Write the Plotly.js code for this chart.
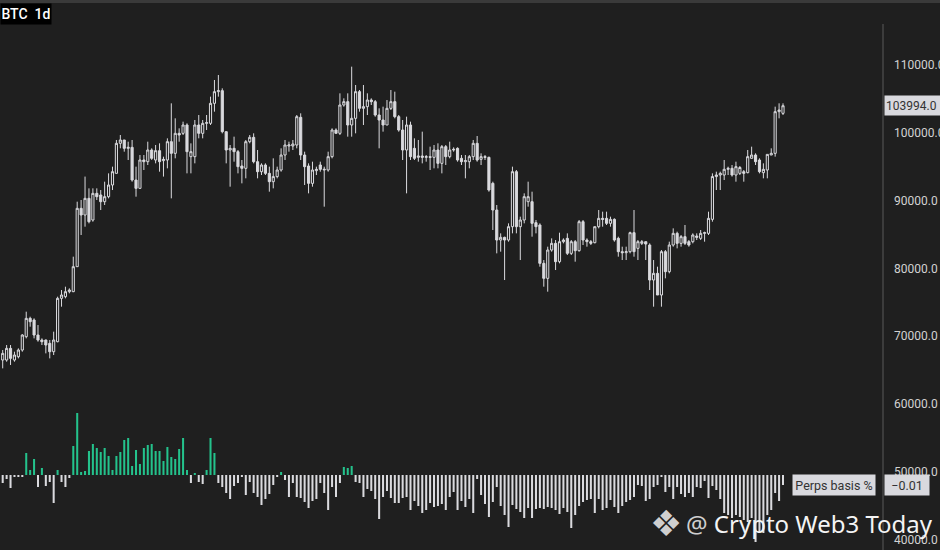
<!DOCTYPE html>
<html>
<head>
<meta charset="utf-8">
<script src="https://cdn.plot.ly/plotly-3.0.1.min.js"></script>
<style>html,body{margin:0;padding:0;background:#1f1f1f;overflow:hidden;}</style>
</head>
<body>
<div id="chart" style="width:940px;height:550px;"></div>
<script>
// BTC daily candles
const openP = [
66484,66484,68205,66484,66975,67959,69926,72630,72384,70172,
69434,69434,68943,67713,69188,75581,75827,76564,76564,80252,
88856,87873,90331,87136,91069,90823,89840,90577,92298,94019,
98445,98939,97707,97854,93036,91806,95986,95740,97461,95986,
97363,95888,95986,98690,96970,99920,99920,101149,96478,96478,
101149,99920,101395,101395,104345,106066,106214,100166,97461,97707,
97215,95101,94757,98690,99330,95740,94265,95248,94019,92790,
93541,94512,96722,98052,98052,98199,102280,96722,95101,92544,
94414,95248,
94512,94512,96478,100411,99920,104099,104591,101149,102132,106066,
103607,103853,104837,104591,102624,101887,101149,103607,104591,102378,
100411,97461,101149,97707,96380,96576,96380,96478,96380,97461,
95494,97953,96478,97461,97707,96232,95740,95740,96478,98445,
96084,96478,96380,92544,88610,84185,84579,84185,86152,94265,
86152,87136,89840,89840,86742,86398,80744,78531,82710,83694,
80989,83939,84431,82218,83939,82612,86890,84185,83939,83792,
86152,87381,87381,86644,87234,84431,82464,82317,82464,85267,
82956,83694,83939,83447,78285,79269,76073,82464,79515,83447,
85169,83694,84677,83939,83939,84775,84431,85169,85169,87234,
93541,93775,93775,94610,94757,93775,94019,94265,94118,96232,
96722,95986,94118,94512,96722,96970,103116,102870];
const highP = [
67959,68697,68697,67713,68205,70300,73614,72876,72630,71647,
69680,69500,69434,70664,75827,76810,77301,77055,81727,89840,
90086,93541,91806,91806,91806,91560,92790,94019,95003,98939,
99674,98939,98690,98939,95003,96722,96722,98690,97707,98199,
98445,96478,99182,104345,102132,100657,101641,101395,98445,101887,
102624,101887,102624,105328,107787,108525,106558,100166,98199,99428,
97461,95986,98939,99674,99920,97461,95494,95494,95003,96232,
95003,97707,98939,98690,98939,102624,102870,97215,95494,95740,
95003,95740,
95003,97215,100657,100657,105820,105083,105820,109754,107050,106312,
107050,105820,105083,104837,103607,103853,104837,106312,106066,102624,
101887,102378,101641,99182,98939,100166,96722,97953,98199,98445,
98199,98199,98690,97854,97854,96722,96722,96722,98939,99526,
96970,96722,96478,92790,89348,85169,84677,86644,95003,94512,
87628,91069,92790,91314,87136,86644,81235,83202,84431,84185,
85267,84431,85169,84185,84185,87136,87136,84431,84185,86152,
88610,88364,88364,87628,87381,84677,83202,83202,85415,88610,
84185,84185,83939,83694,81235,80252,82710,82710,83939,85906,
85415,84923,86398,84185,85169,85169,85661,85415,88364,94019,
94265,94265,95986,95003,95248,95740,95101,94512,97461,97953,
96970,96232,95494,96820,97707,103853,104345,104345];
const lowP = [
65255,66238,65754,66238,66730,67713,69680,71401,69680,69188,
68697,67467,66730,67221,69100,74352,75581,76318,76500,80200,
84923,86152,86644,86890,90086,88610,89348,90331,91560,94019,
97707,97215,95986,92790,90577,91806,94512,95248,96000,95494,
94265,93541,94757,90331,96232,98690,99674,94019,94019,95494,
99182,99182,100411,101149,103116,105328,99920,95494,92052,95740,
94019,92544,93282,98445,95494,93282,93775,93775,91314,91806,
93282,94265,95986,97215,97461,97707,95986,92298,91069,92052,
93775,94265,
89102,94265,96232,99920,99674,103853,99428,99428,99920,103116,
101149,102624,104099,102378,97707,100166,101149,103362,102132,100166,
95986,91069,95986,95986,95740,95494,95740,94512,94757,94757,
94019,95248,96232,97215,95740,95248,93282,94757,95986,95740,
95248,95986,91314,85661,82218,82464,78285,83939,85169,85169,
81235,86644,89102,84677,85169,80252,77302,76564,82464,79760,
80744,83694,81973,81973,80989,82464,83447,83202,83447,83694,
85906,86152,86398,86152,83939,81727,81235,81235,82218,81727,
81235,83447,81235,76810,74352,76073,74352,78531,79269,83202,
82956,83202,83447,83202,83694,84185,84185,83939,84923,86890,
91560,91560,93036,93775,93541,92790,93775,92790,94019,96232,
95248,94019,93282,93282,96722,96478,102132,102624];
const closeP = [
67467,68205,66730,67221,67959,70172,72630,72138,70172,69434,
69188,68697,67713,69434,75581,76073,76564,76810,80252,88856,
87873,90331,86890,91069,90577,89840,90577,92298,94265,98445,
98939,97707,97854,93036,91806,95986,95740,97461,96232,97363,
95740,96084,98690,96970,99920,99674,101149,97215,97215,101149,
99920,101395,101493,104345,106066,106214,100166,97461,97707,97215,
95003,94757,98690,99330,95740,94265,95248,94019,92790,93541,
94512,96722,98199,98199,98346,102378,96722,95003,92544,94512,
94610,94610,
94610,96478,100411,99920,104099,104591,101149,102132,106066,103607,
103853,104837,104591,102624,101887,101149,103607,104591,102378,100411,
97461,101149,96478,96232,96576,96380,96478,96380,97461,95494,
97953,96478,97461,97560,95986,95740,95888,96478,98445,95986,
96478,96380,91560,88610,84185,84579,84185,86152,94265,86152,
87136,90577,90577,86644,86152,80744,78531,82710,83694,80989,
83939,84185,82218,83939,82612,86890,84185,83939,83694,86152,
87381,87234,86644,87234,84185,82464,82317,82464,85267,82464,
83939,83939,83595,78285,79269,76073,82464,79515,83447,85169,
83694,84677,83694,83447,84923,84579,85169,85267,87381,93541,
93775,94019,94610,94757,93775,95003,94880,94019,96478,96722,
95740,94265,94610,96820,96970,103116,103362,103994];
// Perps basis % (same days)
const basisPct = [
-0.008,-0.004,-0.013,-0.002,-0.002,-0.002,0.022,0.005,0.016,-0.012,
0.007,-0.011,-0.007,-0.028,0.005,-0.007,-0.012,-0.003,0.029,0.062,
0.003,0.004,0.024,0.031,0.027,0.023,0.027,0.019,0.005,0.019,
0.023,0.035,0.037,0.009,0.025,0.011,0.027,0.030,0.031,0.024,
0.024,0.014,0.028,0.018,0.016,0.026,0.037,0.005,-0.008,0.002,
-0.007,-0.009,0.005,0.037,0.022,-0.008,-0.012,-0.018,-0.024,-0.011,
-0.008,-0.002,-0.020,-0.007,-0.018,-0.022,-0.030,-0.024,-0.019,-0.010,
-0.002,0.003,-0.005,-0.022,-0.008,-0.022,-0.023,-0.027,-0.033,-0.026,
-0.024,
-0.008,-0.018,-0.035,-0.012,-0.022,-0.008,0.008,0.007,0.009,-0.007,
-0.008,-0.022,-0.014,-0.016,-0.024,-0.044,-0.022,-0.016,-0.023,-0.028,
-0.028,-0.023,-0.022,-0.035,-0.026,-0.031,-0.038,-0.035,-0.028,-0.032,
-0.031,-0.029,-0.035,-0.022,-0.017,-0.035,-0.026,-0.032,-0.024,-0.038,
-0.004,-0.020,-0.029,-0.042,-0.027,-0.012,-0.031,-0.040,-0.052,-0.030,
-0.034,-0.037,-0.043,-0.033,-0.043,-0.034,-0.033,-0.034,-0.032,-0.033,
-0.035,-0.039,-0.033,-0.037,-0.053,-0.040,-0.031,-0.027,-0.025,-0.024,
-0.038,-0.024,-0.035,-0.033,-0.025,-0.032,-0.038,-0.031,-0.027,-0.025,
-0.022,-0.010,-0.011,-0.026,-0.024,-0.012,-0.010,-0.002,-0.017,-0.012,
-0.024,-0.012,-0.019,-0.022,-0.018,-0.022,-0.012,-0.013,-0.006,-0.023,
-0.011,-0.015,-0.024,-0.038,-0.040,-0.043,-0.040,-0.042,-0.045,-0.047,
-0.043,-0.067,-0.057,-0.058,-0.040,-0.035,-0.018,-0.026,-0.010];
const priceTicks = [40000,50000,60000,70000,80000,90000,100000,110000];
const symbolLabel = 'BTC  1d';
const basisLabel = 'Perps basis %';
const watermark = 'Crypto Web3 Today';

const dayIndex = closeP.map((_, i) => i);
const lastClose = closeP[closeP.length - 1];
const lastBasis = basisPct[basisPct.length - 1];

const BG = '#1f1f1f';
const CANDLE = '#dadade';
const GREEN = '#24c28c';

const W = 940, H = 550, PLOT_R = 883;
const step = 780.3 / (dayIndex.length - 1);
const xr = [-2.7 / step, (PLOT_R - 2.7) / step];

const traces = [
  {
    type: 'candlestick', x: dayIndex, open: openP, high: highP, low: lowP, close: closeP,
    xaxis: 'x', yaxis: 'y',
    increasing: {line: {color: CANDLE, width: 1}, fillcolor: BG},
    decreasing: {line: {color: CANDLE, width: 1}, fillcolor: CANDLE},
    whiskerwidth: 0, hoverinfo: 'skip', showlegend: false
  },
  {
    type: 'bar', x: dayIndex, y: basisPct, xaxis: 'x', yaxis: 'y2',
    width: 0.52,
    marker: {color: basisPct.map(v => v > 0 ? GREEN : CANDLE), line: {width: 0}},
    hoverinfo: 'skip', showlegend: false
  }
];

const layout = {
  width: W, height: H,
  margin: {l: 0, r: W - PLOT_R, t: 0, b: 0, pad: 0},
  paper_bgcolor: BG, plot_bgcolor: BG,
  boxgap: 0.22,
  showlegend: false,
  xaxis: {range: xr, visible: false, showgrid: false, zeroline: false, rangeslider: {visible: false}, fixedrange: true},
  yaxis: {
    side: 'right', range: [38462.5, 119587.5], tickvals: priceTicks, tickformat: '.1f',
    showgrid: false, zeroline: false, showline: false, ticks: '', ticklabelstandoff: 10,
    tickfont: {family: 'Roboto', size: 12, color: '#d2d2d2'}, fixedrange: true
  },
  yaxis2: {overlaying: 'y', side: 'right', range: [-0.075, 0.475], visible: false, showgrid: false, zeroline: false, fixedrange: true},
  shapes: [
    {type: 'rect', xref: 'paper', yref: 'paper', x0: 0, x1: W / PLOT_R, y0: 1 - 3 / H, y1: 1, fillcolor: '#3a3a3a', line: {width: 0}, layer: 'above'},
    {type: 'line', xref: 'paper', yref: 'paper', x0: 1, x1: 1, y0: 0, y1: (H - 24) / H, line: {color: '#5a5a5a', width: 1}, layer: 'above'}
  ],
  annotations: [
    {xref: 'paper', yref: 'paper', x: 0, y: 1 - 3 / H, xanchor: 'left', yanchor: 'top', text: symbolLabel,
     showarrow: false, bgcolor: '#000000', width: 48, height: 18, borderpad: 1,
     font: {family: 'Roboto', size: 14, weight: 500, color: '#ffffff'}},
    {xref: 'paper', yref: 'y', x: 1, y: lastClose, xanchor: 'left', yanchor: 'middle', xshift: 1,
     text: lastClose.toFixed(1), showarrow: false, bgcolor: '#d9d9de', width: 58, height: 17, align: 'left', borderpad: 1,
     font: {family: 'Roboto', size: 12, color: '#333333'}},
    {xref: 'paper', yref: 'y2', x: 876 / PLOT_R, y: lastBasis, xanchor: 'right', yanchor: 'middle',
     text: basisLabel, showarrow: false, bgcolor: '#d9d9de', width: 80, height: 18, borderpad: 1,
     font: {family: 'Roboto', size: 12.5, color: '#333333'}},
    {xref: 'paper', yref: 'y2', x: 1, y: lastBasis, xanchor: 'left', yanchor: 'middle', xshift: 1,
     text: '\u2212' + Math.abs(lastBasis).toFixed(2), showarrow: false, bgcolor: '#d9d9de', width: 42, height: 18, borderpad: 1,
     font: {family: 'Roboto', size: 12.5, color: '#333333'}},
    {xref: 'paper', yref: 'paper', x: 666 / PLOT_R, y: (H - 523) / H, xanchor: 'center', yanchor: 'middle',
     text: '\u2756', showarrow: false, font: {family: 'DejaVu Sans', size: 36, color: '#cfcfcf'}},
    {xref: 'paper', yref: 'paper', x: 684 / PLOT_R, y: (H - 523) / H, xanchor: 'left', yanchor: 'middle',
     text: "<span style='color:#cfcfcf'>@</span> " + watermark, showarrow: false,
     font: {family: 'Noto Sans', size: 24, color: '#f4f4f4'}}
  ]
};

Plotly.newPlot('chart', traces, layout, {displayModeBar: false, staticPlot: true});
</script>
</body>
</html>
